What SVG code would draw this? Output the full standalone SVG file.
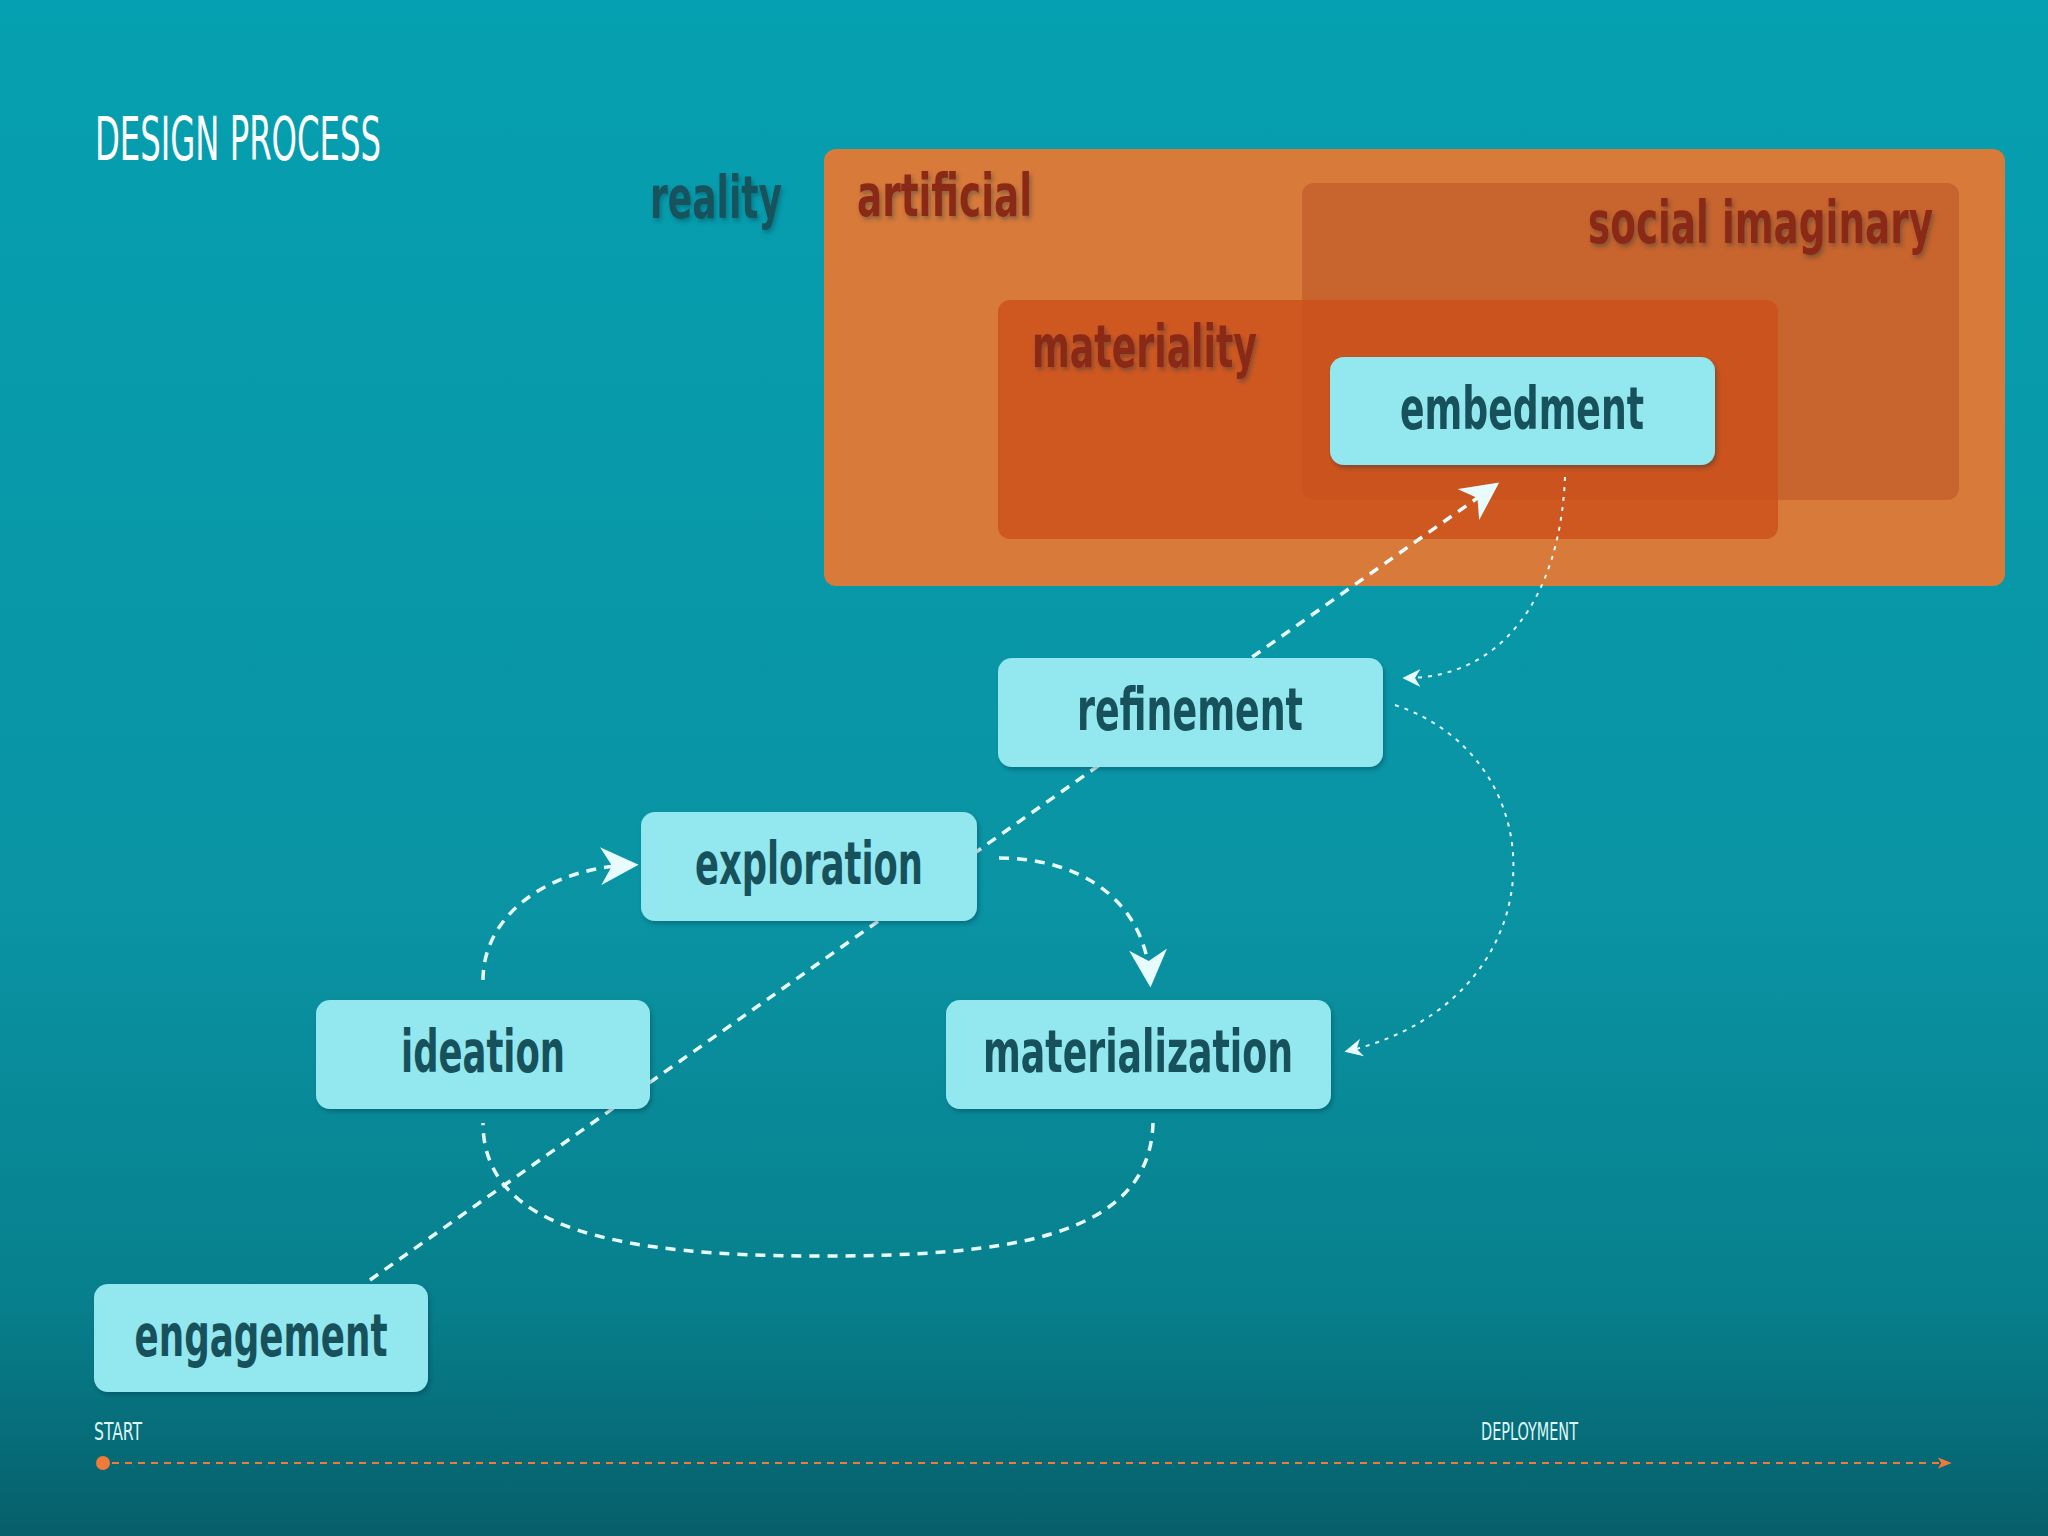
<svg xmlns="http://www.w3.org/2000/svg" width="2048" height="1536" viewBox="0 0 2048 1536">
<defs>
<linearGradient id="bg" x1="0" y1="0" x2="0" y2="1">
<stop offset="0" stop-color="#05a0b1"/><stop offset="0.6" stop-color="#0a93a3"/><stop offset="0.85" stop-color="#077f8c"/><stop offset="1" stop-color="#065f6a"/>
</linearGradient>
<filter id="sh" x="-10%" y="-10%" width="120%" height="130%"><feDropShadow dx="2" dy="3" stdDeviation="2" flood-color="#003040" flood-opacity="0.35"/></filter>
<marker id="big" viewBox="0 0 20 20" refX="16" refY="10" markerWidth="20" markerHeight="20" markerUnits="userSpaceOnUse" orient="auto"><path d="M0,0 L20,10 L0,20 L6,10 Z" fill="#e8fbfd"/></marker>
<marker id="bigA" viewBox="0 0 20 20" refX="16" refY="10" markerWidth="38" markerHeight="38" markerUnits="userSpaceOnUse" orient="auto"><path d="M0,0 L20,10 L0,20 L6,10 Z" fill="#e8fbfd"/></marker>
<marker id="sm" viewBox="0 0 20 20" refX="16" refY="10" markerWidth="18" markerHeight="18" markerUnits="userSpaceOnUse" orient="auto"><path d="M0,0 L20,10 L0,20 L6,10 Z" fill="#e8fbfd"/></marker>
<marker id="or" viewBox="0 0 20 20" refX="16" refY="10" markerWidth="14" markerHeight="14" markerUnits="userSpaceOnUse" orient="auto"><path d="M0,2 L20,10 L0,18 L5,10 Z" fill="#f07a3a"/></marker>
</defs>
<style>
.node rect{fill:#93e7ef;filter:url(#sh)}
.node text{font-family:"DejaVu Sans Condensed","DejaVu Sans",sans-serif;font-weight:bold;font-size:58px;fill:#17525c;text-anchor:middle}
.lbl{font-family:"DejaVu Sans Condensed","DejaVu Sans",sans-serif;font-weight:bold;font-size:58px}
.dash{fill:none;stroke:#e8fbfd;stroke-width:3.5;stroke-dasharray:10 8}
.dot{fill:none;stroke:#e8fbfd;stroke-width:2;stroke-dasharray:4 6}
.small{font-family:"DejaVu Sans Condensed","DejaVu Sans",sans-serif;font-size:24px;fill:#dff6f8}
</style>
<rect width="2048" height="1536" fill="url(#bg)"/>
<text x="95" y="160" font-family="DejaVu Sans Condensed,DejaVu Sans,sans-serif" font-size="60" fill="#ffffff" textLength="286" lengthAdjust="spacingAndGlyphs">DESIGN PROCESS</text>

<g id="zones">
<rect x="824" y="149" width="1181" height="437" rx="12" fill="#d77a3a"/>
<rect x="1302" y="183" width="657" height="317" rx="12" fill="#c5602c" opacity="0.85"/>
<rect x="998" y="300" width="780" height="239" rx="12" fill="#cc4e1a" opacity="0.75"/>
<text class="lbl" x="650" y="218" fill="#17525c" textLength="132" lengthAdjust="spacingAndGlyphs" filter="url(#sh)">reality</text>
<text class="lbl" x="857" y="216" fill="#8a2a14" textLength="175" lengthAdjust="spacingAndGlyphs" filter="url(#sh)">artificial</text>
<text class="lbl" x="1588" y="243" fill="#8a2a14" textLength="345" lengthAdjust="spacingAndGlyphs" filter="url(#sh)">social imaginary</text>
<text class="lbl" x="1032" y="367" fill="#8a2a14" textLength="225" lengthAdjust="spacingAndGlyphs" filter="url(#sh)">materiality</text>
</g>

<g id="connectors">
<path class="dash" d="M370,1280 L1493,487" marker-end="url(#bigA)"/>
<path class="dash" d="M483,980 C483,915 548,868 631,865" marker-end="url(#bigA)"/>
<path class="dash" d="M999,858 C1080,858 1145,900 1150,980" marker-end="url(#bigA)"/>
<path class="dash" d="M1153,1123 C1150,1240 1000,1256 820,1256 C620,1256 483,1230 483,1123"/>
<path class="dot" d="M1565,477 C1560,600 1500,678 1406,678" marker-end="url(#sm)"/>
<path class="dot" d="M1395,705 C1560,760 1560,1000 1348,1051" marker-end="url(#sm)"/>
</g>

<g id="embedment" class="node"><rect x="1330" y="357" width="385" height="108" rx="14"/><text x="1522" y="429" textLength="244" lengthAdjust="spacingAndGlyphs">embedment</text></g>
<g id="refinement" class="node"><rect x="998" y="658" width="385" height="109" rx="14"/><text x="1190" y="730" textLength="226" lengthAdjust="spacingAndGlyphs">refinement</text></g>
<g id="exploration" class="node"><rect x="641" y="812" width="336" height="109" rx="14"/><text x="809" y="884" textLength="228" lengthAdjust="spacingAndGlyphs">exploration</text></g>
<g id="ideation" class="node"><rect x="316" y="1000" width="334" height="109" rx="14"/><text x="483" y="1072" textLength="164" lengthAdjust="spacingAndGlyphs">ideation</text></g>
<g id="materialization" class="node"><rect x="946" y="1000" width="385" height="109" rx="14"/><text x="1138" y="1072" textLength="310" lengthAdjust="spacingAndGlyphs">materialization</text></g>
<g id="engagement" class="node"><rect x="94" y="1284" width="334" height="108" rx="14"/><text x="261" y="1356" textLength="253" lengthAdjust="spacingAndGlyphs">engagement</text></g>

<g id="timeline">
<text class="small" x="94" y="1440" textLength="48" lengthAdjust="spacingAndGlyphs">START</text>
<text class="small" x="1481" y="1440" textLength="97" lengthAdjust="spacingAndGlyphs">DEPLOYMENT</text>
<circle cx="103" cy="1463" r="7" fill="#f07a3a"/>
<path d="M112,1463 L1949,1463" stroke="#f07a3a" stroke-width="2" stroke-dasharray="7 6" fill="none" marker-end="url(#or)"/>
</g>
</svg>
